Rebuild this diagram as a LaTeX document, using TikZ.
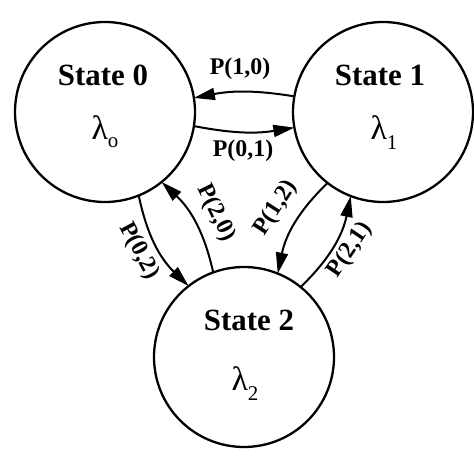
\documentclass[tikz,border=0pt]{standalone}
\usepackage{fontspec}
\setmainfont{Liberation Serif}
\usetikzlibrary{arrows.meta}
\begin{document}
\begin{tikzpicture}[x=1bp,y=-1bp,
  state/.style={circle, draw, line width=2.3bp, minimum size=180bp, inner sep=0pt, outer sep=0pt},
  title/.style={font=\bfseries\fontsize{31}{31}\selectfont, anchor=base, inner sep=0pt},
  lam/.style={font=\fontsize{34}{34}\selectfont, anchor=base, inner sep=0pt},
  tr/.style={-{Triangle[length=21bp,width=12bp]}, line width=2bp},
  plabel/.style={font=\bfseries\fontsize{24}{24}\selectfont, inner sep=0pt}]
\useasboundingbox (0,0) rectangle (474,470);
\fill[white] (0,0) rectangle (474,470);
\node[state] (s0) at (105,112) {};
\node[state] (s1) at (383,112) {};
\node[state] (s2) at (244,357) {};
\node[title] (t0) at (103,86) {State 0};
\node[title] (t1) at (380,86) {State 1};
\node[title] (t2) at (249,330) {State 2};
\node[lam] (l0) at (105,140) {λ\raisebox{-8bp}{\fontsize{21}{21}\selectfont o}};
\node[lam] (l1) at (384,140) {λ\raisebox{-10bp}{\fontsize{21}{21}\selectfont 1}};
\node[lam] (l2) at (245,390) {λ\raisebox{-10bp}{\fontsize{21}{21}\selectfont 2}};
\draw[tr] (s1.170) to[bend right=10] (s0.9);
\draw[tr] (s0.-9) to[bend right=10] (s1.190);
\draw[tr] (s0.-68) to[bend right=17] (s2.128);
\draw[tr] (s2.110) to[bend right=17] (s0.-51);
\draw[tr] (s1.232) to[bend right=17] (s2.68);
\draw[tr] (s2.51) to[bend right=17] (s1.249);
\node[plabel, anchor=base] (p10) at (240,75) {P(1,0)};
\node[plabel, anchor=base] (p01) at (243,157) {P(0,1)};
\node[plabel, rotate=-62] (p02) at (139,251) {P(0,2)};
\node[plabel, rotate=-64] (p20) at (216,213) {P(2,0)};
\node[plabel, rotate=57] (p12) at (276,208) {P(1,2)};
\node[plabel, rotate=56] (p21) at (350,250) {P(2,1)};
\end{tikzpicture}
\end{document}
